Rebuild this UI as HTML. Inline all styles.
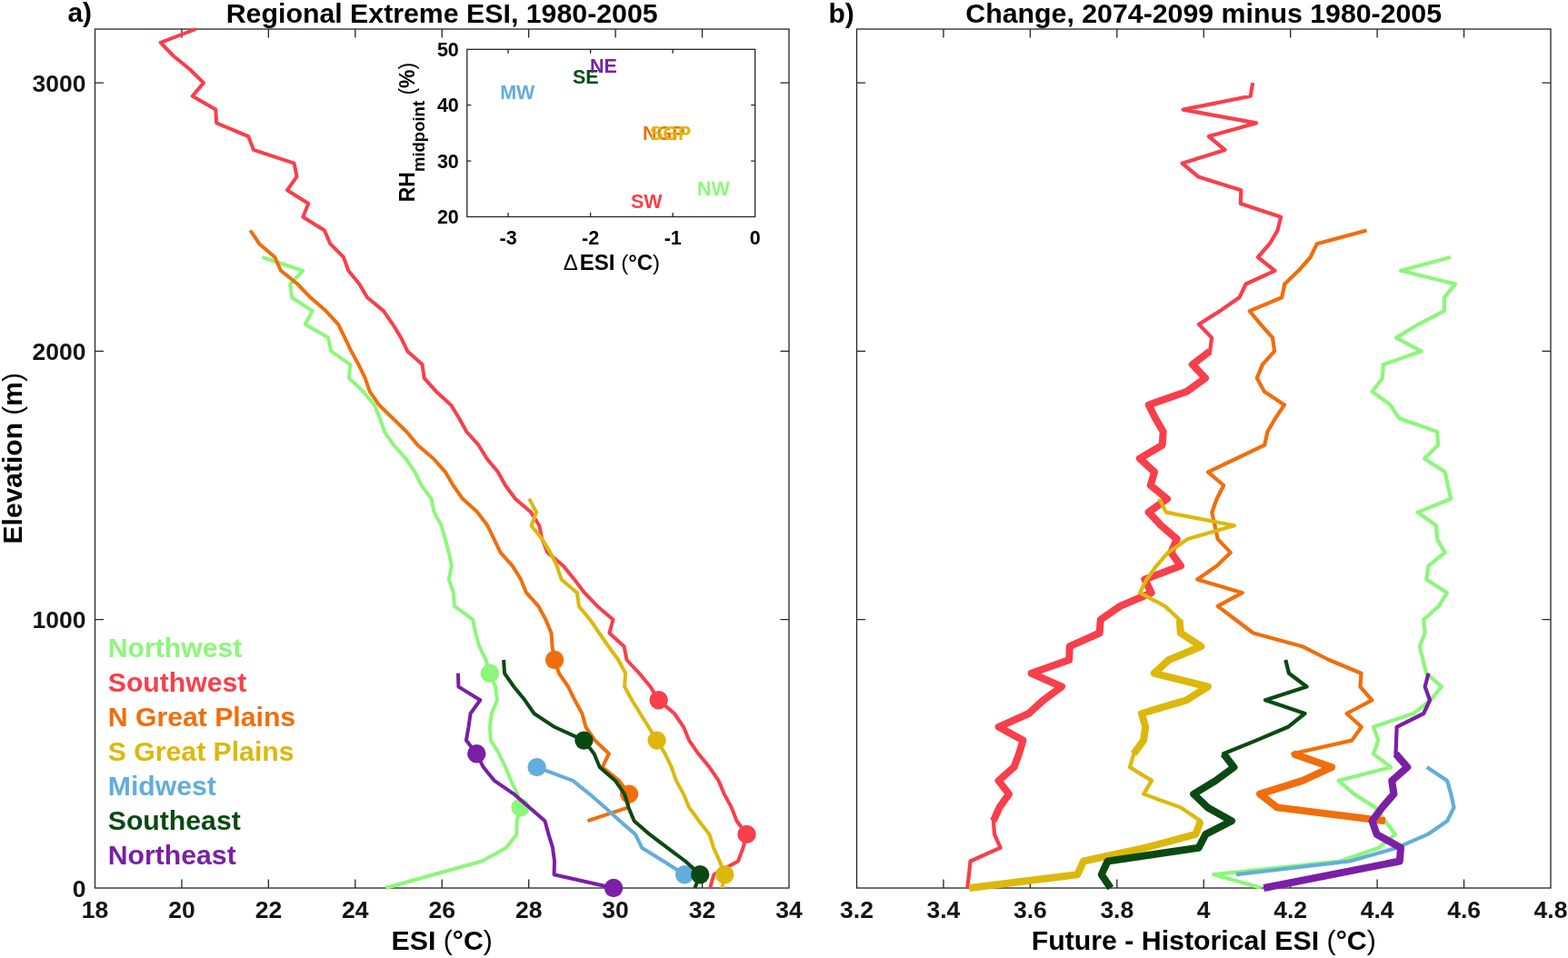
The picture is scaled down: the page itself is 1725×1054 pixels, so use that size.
<!DOCTYPE html><html><head><meta charset="utf-8"><style>html,body{margin:0;padding:0;background:#fff;}svg{display:block}</style></head><body>
<svg width="1725" height="1054" viewBox="0 0 1725 1054">
<rect width="100%" height="100%" fill="#fff"/>
<rect x="104.50" y="32.00" width="763.50" height="945.00" fill="none" stroke="#262626" stroke-width="1.30"/>
<path d="M199.94 977.00v-9.50M199.94 32.00v9.50M295.38 977.00v-9.50M295.38 32.00v9.50M390.81 977.00v-9.50M390.81 32.00v9.50M486.25 977.00v-9.50M486.25 32.00v9.50M581.69 977.00v-9.50M581.69 32.00v9.50M677.12 977.00v-9.50M677.12 32.00v9.50M772.56 977.00v-9.50M772.56 32.00v9.50M104.50 681.69h9.50M868.00 681.69h-9.50M104.50 386.38h9.50M868.00 386.38h-9.50M104.50 91.06h9.50M868.00 91.06h-9.50" stroke="#262626" stroke-width="1.30" fill="none"/>
<rect x="942.50" y="32.00" width="763.50" height="945.00" fill="none" stroke="#262626" stroke-width="1.30"/>
<path d="M1037.94 977.00v-9.50M1037.94 32.00v9.50M1133.38 977.00v-9.50M1133.38 32.00v9.50M1228.81 977.00v-9.50M1228.81 32.00v9.50M1324.25 977.00v-9.50M1324.25 32.00v9.50M1419.69 977.00v-9.50M1419.69 32.00v9.50M1515.12 977.00v-9.50M1515.12 32.00v9.50M1610.56 977.00v-9.50M1610.56 32.00v9.50M942.50 681.69h9.50M1706.00 681.69h-9.50M942.50 386.38h9.50M1706.00 386.38h-9.50M942.50 91.06h9.50M1706.00 91.06h-9.50" stroke="#262626" stroke-width="1.30" fill="none"/>
<polyline points="288.7,283.0 333.3,297.8 319.3,312.5 321.0,327.3 343.8,342.1 335.7,356.8 361.1,371.6 364.1,386.4 385.4,401.1 383.8,415.9 399.6,430.7 411.8,445.4 417.9,460.2 423.0,475.0 433.1,489.7 446.3,504.5 456.5,519.3 463.5,534.0 474.5,548.8 477.6,563.6 485.7,578.3 489.7,593.1 493.8,607.9 496.8,622.6 493.8,637.4 498.9,652.2 499.9,666.9 520.2,681.7 523.2,696.5 527.3,711.2 534.6,726.0 538.9,740.8 545.0,755.5 547.0,770.3 540.9,785.0 538.9,799.8 539.9,814.6 549.0,829.3 556.1,844.1 562.2,858.9 569.3,873.6 572.6,888.4 568.6,903.2 568.4,917.9 556.9,932.7 530.1,947.5 477.0,962.2 424.2,977.0" fill="none" stroke-linejoin="round" stroke="#8CF77A" stroke-width="4.00"/>
<circle cx="538.9" cy="740.8" r="10.2" fill="#8CF77A"/>
<circle cx="572.6" cy="888.4" r="10.2" fill="#8CF77A"/>
<polyline points="215.5,32.0 176.6,46.8 190.8,61.5 208.8,76.3 224.0,91.1 211.7,105.8 237.3,120.6 238.2,135.4 273.3,150.1 279.0,164.9 323.6,179.7 326.5,194.4 316.0,209.2 339.3,224.0 333.3,238.7 357.0,253.5 363.3,268.2 378.0,283.0 383.3,297.8 395.3,312.5 404.0,327.3 422.0,342.1 432.1,356.8 441.2,371.6 448.3,386.4 464.6,401.1 466.6,415.9 479.8,430.7 496.0,445.4 505.2,460.2 513.3,475.0 526.5,489.7 535.6,504.5 547.8,519.3 556.0,534.0 566.9,548.8 584.1,563.6 593.3,578.3 596.3,593.1 602.4,607.9 619.7,622.6 631.8,637.4 643.0,652.2 657.2,666.9 674.5,681.7 670.4,696.5 686.6,711.2 689.5,726.0 703.3,740.8 715.5,755.5 724.6,770.3 741.9,785.0 752.0,799.8 758.1,814.6 768.3,829.3 780.4,844.1 790.6,858.9 796.7,873.6 804.8,888.4 810.5,903.2 821.5,917.9 817.5,932.7 812.0,947.5 785.3,962.2 781.1,977.0" fill="none" stroke-linejoin="round" stroke="#F83F4B" stroke-width="4.00"/>
<circle cx="724.6" cy="770.3" r="10.2" fill="#F83F4B"/>
<circle cx="821.5" cy="917.9" r="10.2" fill="#F83F4B"/>
<polyline points="275.3,253.5 285.3,268.2 302.4,283.0 309.0,297.8 327.3,312.5 341.5,327.3 358.5,342.1 372.2,356.8 379.3,371.6 386.4,386.4 394.5,401.1 401.7,415.9 406.7,430.7 416.9,445.4 432.1,460.2 447.3,475.0 459.5,489.7 476.8,504.5 490.0,519.3 498.5,534.0 509.0,548.8 525.3,563.6 536.4,578.3 543.5,593.1 550.6,607.9 563.8,622.6 573.0,637.4 579.1,652.2 592.3,666.9 600.4,681.7 606.5,696.5 607.5,711.2 610.1,726.0 615.0,740.8 625.1,755.5 632.3,770.3 640.4,785.0 644.4,799.8 654.6,814.6 669.8,829.3 662.7,844.1 681.0,858.9 692.1,873.6 691.1,888.4 646.5,903.2" fill="none" stroke-linejoin="round" stroke="#F06E0C" stroke-width="4.00"/>
<circle cx="610.1" cy="726.0" r="10.2" fill="#F06E0C"/>
<circle cx="692.1" cy="873.6" r="10.2" fill="#F06E0C"/>
<polyline points="582.1,548.8 590.2,563.6 584.5,578.3 596.3,593.1 605.4,607.9 612.6,622.6 617.6,637.4 634.9,652.2 636.9,666.9 649.1,681.7 659.2,696.5 669.4,711.2 680.3,726.0 688.1,740.8 687.1,755.5 695.2,770.3 704.3,785.0 713.5,799.8 722.6,814.6 731.7,829.3 738.8,844.1 743.9,858.9 752.0,873.6 758.1,888.4 769.0,903.2 780.4,917.9 785.0,932.7 791.7,947.5 797.3,962.2 794.5,977.0" fill="none" stroke-linejoin="round" stroke="#DDB80C" stroke-width="4.00"/>
<circle cx="722.6" cy="814.6" r="10.2" fill="#DDB80C"/>
<circle cx="797.3" cy="962.2" r="10.2" fill="#DDB80C"/>
<polyline points="590.6,844.1 630.2,858.9 648.5,873.6 665.7,888.4 682.0,903.2 699.0,917.9 706.1,932.7 730.0,947.5 753.1,962.2" fill="none" stroke-linejoin="round" stroke="#62ADDD" stroke-width="4.00"/>
<circle cx="590.6" cy="844.1" r="10.2" fill="#62ADDD"/>
<circle cx="753.1" cy="962.2" r="10.2" fill="#62ADDD"/>
<polyline points="554.1,726.0 555.1,740.8 565.3,755.5 577.4,770.3 587.6,785.0 609.9,799.8 642.4,814.6 653.6,829.3 659.7,844.1 676.9,858.9 687.1,873.6 691.5,888.4 697.7,903.2 714.6,917.9 734.0,932.7 754.0,947.5 770.2,962.2 764.4,977.0" fill="none" stroke-linejoin="round" stroke="#0A4A12" stroke-width="4.00"/>
<circle cx="642.4" cy="814.6" r="10.2" fill="#0A4A12"/>
<circle cx="770.2" cy="962.2" r="10.2" fill="#0A4A12"/>
<polyline points="504.0,740.8 504.4,755.5 528.3,770.3 517.6,785.0 515.5,799.8 512.9,814.6 524.3,829.3 531.8,844.1 543.9,858.9 565.3,873.6 582.5,888.4 599.5,903.2 603.5,917.9 608.0,932.7 610.0,947.5 609.6,962.2 675.0,977.0" fill="none" stroke-linejoin="round" stroke="#7A1FA6" stroke-width="4.00"/>
<circle cx="524.3" cy="829.3" r="10.2" fill="#7A1FA6"/>
<circle cx="675.0" cy="977.0" r="10.2" fill="#7A1FA6"/>
<g fill="none" stroke-linejoin="round" stroke-linecap="butt">
<polyline points="1596.0,283.0 1541.1,297.8 1601.0,312.5 1588.9,327.3 1588.9,342.1 1560.4,356.8 1536.1,371.6 1563.5,386.4 1521.9,401.1 1520.9,415.9 1509.7,430.7 1529.5,445.4 1539.2,460.2 1581.1,475.0 1582.1,489.7 1567.1,504.5 1589.6,519.3 1592.9,534.0 1596.1,548.8 1559.6,563.6 1580.0,578.3 1581.1,593.1 1589.6,607.9 1571.4,622.6 1569.3,637.4 1591.9,652.2 1582.9,666.9 1566.2,681.7 1567.7,696.5 1561.7,711.2 1565.5,726.0 1569.2,740.8 1585.9,755.5 1573.8,770.3 1555.0,785.0 1510.9,799.8 1516.3,814.6 1511.0,829.3 1530.2,844.1 1472.6,858.9 1489.6,873.6 1513.1,888.4 1523.8,903.2 1535.0,917.9 1517.0,932.7 1474.0,947.5 1335.3,962.2 1388.0,977.0" stroke="#8CF77A" stroke-width="4.20"/>
<polyline points="1378.2,91.1 1375.7,105.8 1301.6,120.6 1382.0,135.4 1329.8,150.1 1347.5,164.9 1300.5,179.7 1318.3,194.4 1365.3,209.2 1364.8,224.0 1409.1,238.7 1405.5,253.5 1396.8,268.2 1383.9,283.0 1402.5,297.8 1370.6,312.5 1363.5,327.3 1342.2,342.1 1318.9,356.8 1333.1,371.6 1331.1,386.4 1311.8,401.1 1326.0,415.9 1305.7,430.7 1263.8,445.4 1271.1,460.2 1279.7,475.0 1278.6,489.7 1253.9,504.5 1270.0,519.3 1265.7,534.0 1284.0,548.8 1263.6,563.6 1277.5,578.3 1294.7,593.1 1288.3,607.9 1299.0,622.6 1259.3,637.4 1266.7,652.2 1232.3,666.9 1210.8,681.7 1209.6,696.5 1176.8,711.2 1176.2,726.0 1134.7,740.8 1168.0,755.5 1147.9,770.3 1131.8,785.0 1098.6,799.8 1125.4,814.6 1121.0,829.3 1115.5,844.1 1098.5,858.9 1110.0,873.6 1099.5,888.4 1092.9,903.2 1094.0,917.9 1100.6,932.7 1067.5,947.5 1066.0,962.2 1064.2,977.0" stroke="#F83F4B" stroke-width="4.20"/>
<polyline points="1331.1,386.4 1311.8,401.1 1326.0,415.9 1305.7,430.7 1263.8,445.4 1271.1,460.2 1279.7,475.0 1278.6,489.7 1253.9,504.5 1270.0,519.3 1265.7,534.0 1284.0,548.8 1263.6,563.6 1277.5,578.3 1294.7,593.1 1288.3,607.9 1299.0,622.6 1259.3,637.4 1266.7,652.2 1232.3,666.9 1210.8,681.7 1209.6,696.5 1176.8,711.2 1176.2,726.0 1134.7,740.8 1168.0,755.5 1147.9,770.3 1131.8,785.0 1098.6,799.8 1125.4,814.6 1121.0,829.3 1115.5,844.1 1098.5,858.9 1110.0,873.6 1099.5,888.4 1092.9,903.2" stroke="#F83F4B" stroke-width="8.00"/>
<polyline points="1503.6,253.5 1448.8,268.2 1441.7,283.0 1428.5,297.8 1413.3,312.5 1410.2,327.3 1374.7,342.1 1386.9,356.8 1400.1,371.6 1402.1,386.4 1388.9,401.1 1382.8,415.9 1390.9,430.7 1413.0,445.4 1403.0,460.2 1394.4,475.0 1391.2,489.7 1360.1,504.5 1329.0,519.3 1346.2,534.0 1338.7,548.8 1333.3,563.6 1336.5,578.3 1339.7,593.1 1353.7,607.9 1338.7,622.6 1317.2,637.4 1366.8,652.2 1339.6,666.9 1359.2,681.7 1378.8,696.5 1432.7,711.2 1462.0,726.0 1497.5,740.8 1496.4,755.5 1509.4,770.3 1481.5,785.0 1497.8,799.8 1487.2,814.6 1422.3,829.3 1465.0,844.1 1433.0,858.9 1386.0,873.6 1405.0,888.4 1523.8,903.2" stroke="#F06E0C" stroke-width="4.20"/>
<polyline points="1422.3,829.3 1465.0,844.1 1433.0,858.9 1386.0,873.6 1405.0,888.4 1523.8,903.2" stroke="#F06E0C" stroke-width="8.00"/>
<polyline points="1275.4,548.8 1282.9,563.6 1358.0,578.3 1306.5,593.1 1285.0,607.9 1272.2,622.6 1261.5,637.4 1254.0,652.2 1281.6,666.9 1297.7,681.7 1298.8,696.5 1321.3,711.2 1285.9,726.0 1269.8,740.8 1328.8,755.5 1305.2,770.3 1255.9,785.0 1260.2,799.8 1258.0,814.6 1247.3,829.3 1243.0,844.1 1267.0,858.9 1258.1,873.6 1299.0,888.4 1320.9,903.2 1315.4,917.9 1260.3,932.7 1192.0,947.5 1185.4,962.2 1066.4,977.0" stroke="#DDB80C" stroke-width="4.20"/>
<polyline points="1297.7,681.7 1298.8,696.5 1321.3,711.2 1285.9,726.0 1269.8,740.8 1328.8,755.5 1305.2,770.3 1255.9,785.0 1260.2,799.8 1258.0,814.6 1247.3,829.3" stroke="#DDB80C" stroke-width="8.00"/>
<polyline points="1320.9,903.2 1315.4,917.9 1260.3,932.7 1192.0,947.5 1185.4,962.2 1066.4,977.0" stroke="#DDB80C" stroke-width="8.00"/>
<polyline points="1569.7,844.1 1592.1,858.9 1596.3,873.6 1599.5,888.4 1592.1,903.2 1570.7,917.9 1537.0,932.7 1485.0,947.5 1360.0,962.2" stroke="#62ADDD" stroke-width="4.20"/>
<polyline points="1414.3,726.0 1418.0,740.8 1437.5,755.5 1392.0,770.3 1435.5,785.0 1417.0,799.8 1382.0,814.6 1346.0,829.3 1357.5,844.1 1337.4,858.9 1313.2,873.6 1328.6,888.4 1355.0,903.2 1326.4,917.9 1318.7,932.7 1218.5,947.5 1211.8,962.2 1221.8,977.0" stroke="#0A4A12" stroke-width="4.20"/>
<polyline points="1346.0,829.3 1357.5,844.1 1337.4,858.9 1313.2,873.6 1328.6,888.4 1355.0,903.2 1326.4,917.9 1318.7,932.7 1218.5,947.5 1211.8,962.2 1221.8,977.0" stroke="#0A4A12" stroke-width="8.00"/>
<polyline points="1571.5,740.8 1567.7,755.5 1573.0,770.3 1566.2,785.0 1536.6,799.8 1536.1,814.6 1535.5,829.3 1548.3,844.1 1531.2,858.9 1533.4,873.6 1520.6,888.4 1509.5,903.2 1514.6,917.9 1541.0,932.7 1539.8,947.5 1390.3,977.0" stroke="#7A1FA6" stroke-width="4.20"/>
<polyline points="1535.5,829.3 1548.3,844.1 1531.2,858.9 1533.4,873.6 1520.6,888.4 1509.5,903.2 1514.6,917.9 1541.0,932.7 1539.8,947.5 1390.3,977.0" stroke="#7A1FA6" stroke-width="8.00"/>
</g>
<rect x="513.80" y="54.30" width="316.90" height="184.20" fill="none" stroke="#262626" stroke-width="1.30"/>
<path d="M559.07 238.50v-4.50M559.07 54.30v4.50M649.61 238.50v-4.50M649.61 54.30v4.50M740.16 238.50v-4.50M740.16 54.30v4.50M513.80 177.10h4.50M830.70 177.10h-4.50M513.80 115.70h4.50M830.70 115.70h-4.50" stroke="#262626" stroke-width="1.30" fill="none"/>
<text x="94.5" y="986.6" font-size="26.5" text-anchor="end" fill="#141414" style="font-family:'Liberation Sans',Arial,Helvetica,sans-serif;font-weight:bold" >0</text>
<text x="94.5" y="691.3" font-size="26.5" text-anchor="end" fill="#141414" style="font-family:'Liberation Sans',Arial,Helvetica,sans-serif;font-weight:bold" >1000</text>
<text x="94.5" y="396.0" font-size="26.5" text-anchor="end" fill="#141414" style="font-family:'Liberation Sans',Arial,Helvetica,sans-serif;font-weight:bold" >2000</text>
<text x="94.5" y="100.7" font-size="26.5" text-anchor="end" fill="#141414" style="font-family:'Liberation Sans',Arial,Helvetica,sans-serif;font-weight:bold" >3000</text>
<text x="104.5" y="1010.0" font-size="26.5" text-anchor="middle" fill="#141414" style="font-family:'Liberation Sans',Arial,Helvetica,sans-serif;font-weight:bold" >18</text>
<text x="199.9" y="1010.0" font-size="26.5" text-anchor="middle" fill="#141414" style="font-family:'Liberation Sans',Arial,Helvetica,sans-serif;font-weight:bold" >20</text>
<text x="295.4" y="1010.0" font-size="26.5" text-anchor="middle" fill="#141414" style="font-family:'Liberation Sans',Arial,Helvetica,sans-serif;font-weight:bold" >22</text>
<text x="390.8" y="1010.0" font-size="26.5" text-anchor="middle" fill="#141414" style="font-family:'Liberation Sans',Arial,Helvetica,sans-serif;font-weight:bold" >24</text>
<text x="486.2" y="1010.0" font-size="26.5" text-anchor="middle" fill="#141414" style="font-family:'Liberation Sans',Arial,Helvetica,sans-serif;font-weight:bold" >26</text>
<text x="581.7" y="1010.0" font-size="26.5" text-anchor="middle" fill="#141414" style="font-family:'Liberation Sans',Arial,Helvetica,sans-serif;font-weight:bold" >28</text>
<text x="677.1" y="1010.0" font-size="26.5" text-anchor="middle" fill="#141414" style="font-family:'Liberation Sans',Arial,Helvetica,sans-serif;font-weight:bold" >30</text>
<text x="772.6" y="1010.0" font-size="26.5" text-anchor="middle" fill="#141414" style="font-family:'Liberation Sans',Arial,Helvetica,sans-serif;font-weight:bold" >32</text>
<text x="868.0" y="1010.0" font-size="26.5" text-anchor="middle" fill="#141414" style="font-family:'Liberation Sans',Arial,Helvetica,sans-serif;font-weight:bold" >34</text>
<text x="942.5" y="1010.0" font-size="26.5" text-anchor="middle" fill="#141414" style="font-family:'Liberation Sans',Arial,Helvetica,sans-serif;font-weight:bold" >3.2</text>
<text x="1037.9" y="1010.0" font-size="26.5" text-anchor="middle" fill="#141414" style="font-family:'Liberation Sans',Arial,Helvetica,sans-serif;font-weight:bold" >3.4</text>
<text x="1133.4" y="1010.0" font-size="26.5" text-anchor="middle" fill="#141414" style="font-family:'Liberation Sans',Arial,Helvetica,sans-serif;font-weight:bold" >3.6</text>
<text x="1228.8" y="1010.0" font-size="26.5" text-anchor="middle" fill="#141414" style="font-family:'Liberation Sans',Arial,Helvetica,sans-serif;font-weight:bold" >3.8</text>
<text x="1324.2" y="1010.0" font-size="26.5" text-anchor="middle" fill="#141414" style="font-family:'Liberation Sans',Arial,Helvetica,sans-serif;font-weight:bold" >4</text>
<text x="1419.7" y="1010.0" font-size="26.5" text-anchor="middle" fill="#141414" style="font-family:'Liberation Sans',Arial,Helvetica,sans-serif;font-weight:bold" >4.2</text>
<text x="1515.1" y="1010.0" font-size="26.5" text-anchor="middle" fill="#141414" style="font-family:'Liberation Sans',Arial,Helvetica,sans-serif;font-weight:bold" >4.4</text>
<text x="1610.6" y="1010.0" font-size="26.5" text-anchor="middle" fill="#141414" style="font-family:'Liberation Sans',Arial,Helvetica,sans-serif;font-weight:bold" >4.6</text>
<text x="1706.0" y="1010.0" font-size="26.5" text-anchor="middle" fill="#141414" style="font-family:'Liberation Sans',Arial,Helvetica,sans-serif;font-weight:bold" >4.8</text>
<text x="486.2" y="24.9" font-size="30.3" text-anchor="middle" fill="#000" style="font-family:'Liberation Sans',Arial,Helvetica,sans-serif;font-weight:bold" >Regional Extreme ESI, 1980-2005</text>
<text x="1324.2" y="24.9" font-size="30.3" text-anchor="middle" fill="#000" style="font-family:'Liberation Sans',Arial,Helvetica,sans-serif;font-weight:bold" >Change, 2074-2099 minus 1980-2005</text>
<text x="74.4" y="24.3" font-size="30.0" text-anchor="start" fill="#000" style="font-family:'Liberation Sans',Arial,Helvetica,sans-serif;font-weight:bold" >a)</text>
<text x="911.5" y="25.2" font-size="30.0" text-anchor="start" fill="#000" style="font-family:'Liberation Sans',Arial,Helvetica,sans-serif;font-weight:bold" >b)</text>
<text x="486.2" y="1045.0" font-size="30.3" text-anchor="middle" fill="#000" style="font-family:'Liberation Sans',Arial,Helvetica,sans-serif;font-weight:bold" >ESI <tspan style="font-weight:normal">(</tspan>°C<tspan style="font-weight:normal">)</tspan></text>
<text x="1324.2" y="1045.0" font-size="30.3" text-anchor="middle" fill="#000" style="font-family:'Liberation Sans',Arial,Helvetica,sans-serif;font-weight:bold" >Future - Historical ESI <tspan style="font-weight:normal">(</tspan>°C<tspan style="font-weight:normal">)</tspan></text>
<text x="0.0" y="0.0" font-size="30.0" text-anchor="middle" fill="#000" style="font-family:'Liberation Sans',Arial,Helvetica,sans-serif;font-weight:bold" transform="translate(24.2 504.2) rotate(-90)">Elevation <tspan style="font-weight:normal">(</tspan>m<tspan style="font-weight:normal">)</tspan></text>
<text x="118.8" y="722.7" font-size="30.2" text-anchor="start" fill="#8CF77A" style="font-family:'Liberation Sans',Arial,Helvetica,sans-serif;font-weight:bold" >Northwest</text>
<text x="118.8" y="760.7" font-size="30.2" text-anchor="start" fill="#F83F4B" style="font-family:'Liberation Sans',Arial,Helvetica,sans-serif;font-weight:bold" >Southwest</text>
<text x="118.8" y="798.7" font-size="30.2" text-anchor="start" fill="#F06E0C" style="font-family:'Liberation Sans',Arial,Helvetica,sans-serif;font-weight:bold" >N Great Plains</text>
<text x="118.8" y="836.7" font-size="30.2" text-anchor="start" fill="#DDB80C" style="font-family:'Liberation Sans',Arial,Helvetica,sans-serif;font-weight:bold" >S Great Plains</text>
<text x="118.8" y="874.7" font-size="30.2" text-anchor="start" fill="#62ADDD" style="font-family:'Liberation Sans',Arial,Helvetica,sans-serif;font-weight:bold" >Midwest</text>
<text x="118.8" y="912.7" font-size="30.2" text-anchor="start" fill="#0A4A12" style="font-family:'Liberation Sans',Arial,Helvetica,sans-serif;font-weight:bold" >Southeast</text>
<text x="118.8" y="950.7" font-size="30.2" text-anchor="start" fill="#7A1FA6" style="font-family:'Liberation Sans',Arial,Helvetica,sans-serif;font-weight:bold" >Northeast</text>
<text x="504.8" y="246.1" font-size="21.5" text-anchor="end" fill="#000" style="font-family:'Liberation Sans',Arial,Helvetica,sans-serif;font-weight:bold" >20</text>
<text x="504.8" y="184.7" font-size="21.5" text-anchor="end" fill="#000" style="font-family:'Liberation Sans',Arial,Helvetica,sans-serif;font-weight:bold" >30</text>
<text x="504.8" y="123.3" font-size="21.5" text-anchor="end" fill="#000" style="font-family:'Liberation Sans',Arial,Helvetica,sans-serif;font-weight:bold" >40</text>
<text x="504.8" y="61.9" font-size="21.5" text-anchor="end" fill="#000" style="font-family:'Liberation Sans',Arial,Helvetica,sans-serif;font-weight:bold" >50</text>
<text x="559.1" y="268.8" font-size="21.5" text-anchor="middle" fill="#000" style="font-family:'Liberation Sans',Arial,Helvetica,sans-serif;font-weight:bold" >-3</text>
<text x="649.6" y="268.8" font-size="21.5" text-anchor="middle" fill="#000" style="font-family:'Liberation Sans',Arial,Helvetica,sans-serif;font-weight:bold" >-2</text>
<text x="740.2" y="268.8" font-size="21.5" text-anchor="middle" fill="#000" style="font-family:'Liberation Sans',Arial,Helvetica,sans-serif;font-weight:bold" >-1</text>
<text x="830.7" y="268.8" font-size="21.5" text-anchor="middle" fill="#000" style="font-family:'Liberation Sans',Arial,Helvetica,sans-serif;font-weight:bold" >0</text>
<text x="672.9" y="296.6" font-size="24.0" text-anchor="middle" fill="#000" style="font-family:'Liberation Sans',Arial,Helvetica,sans-serif;font-weight:bold" ><tspan style="font-weight:normal">&#916;</tspan><tspan dx="2">ESI <tspan style="font-weight:normal">(</tspan>°C<tspan style="font-weight:normal">)</tspan></tspan></text>
<text x="0.0" y="0.0" font-size="23.0" text-anchor="middle" fill="#000" style="font-family:'Liberation Sans',Arial,Helvetica,sans-serif;font-weight:bold" transform="translate(456.1 145.5) rotate(-90)">RH<tspan font-size="18.5" dy="10.5">midpoint</tspan><tspan dy="-10.5"> <tspan style="font-weight:normal">(</tspan>%<tspan style="font-weight:normal">)</tspan></tspan></text>
<text x="550.2" y="108.9" font-size="21.5" text-anchor="start" fill="#62ADDD" style="font-family:'Liberation Sans',Arial,Helvetica,sans-serif;font-weight:bold" >MW</text>
<text x="630.0" y="92.3" font-size="21.5" text-anchor="start" fill="#0A4A12" style="font-family:'Liberation Sans',Arial,Helvetica,sans-serif;font-weight:bold" >SE</text>
<text x="649.0" y="80.3" font-size="21.5" text-anchor="start" fill="#7A1FA6" style="font-family:'Liberation Sans',Arial,Helvetica,sans-serif;font-weight:bold" >NE</text>
<text x="707.0" y="154.3" font-size="21.5" text-anchor="start" fill="#F06E0C" style="font-family:'Liberation Sans',Arial,Helvetica,sans-serif;font-weight:bold" >NGP</text>
<text x="715.0" y="154.3" font-size="21.5" text-anchor="start" fill="#DDB80C" style="font-family:'Liberation Sans',Arial,Helvetica,sans-serif;font-weight:bold" >SGP</text>
<text x="767.0" y="215.3" font-size="21.5" text-anchor="start" fill="#8CF77A" style="font-family:'Liberation Sans',Arial,Helvetica,sans-serif;font-weight:bold" >NW</text>
<text x="694.0" y="229.3" font-size="21.5" text-anchor="start" fill="#F83F4B" style="font-family:'Liberation Sans',Arial,Helvetica,sans-serif;font-weight:bold" >SW</text>
</svg></body></html>
